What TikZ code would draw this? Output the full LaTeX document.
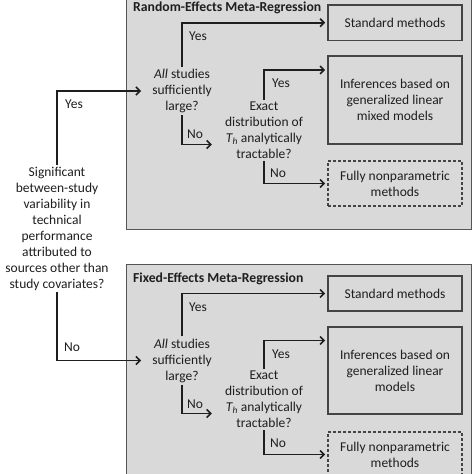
\documentclass[tikz,border=0pt]{standalone}
\usepackage{fontspec}
\setmainfont{Carlito}
\usetikzlibrary{arrows.meta,calc}
\definecolor{panelfill}{HTML}{D9D9D9}
\definecolor{panelline}{HTML}{555555}
\definecolor{boxline}{HTML}{444444}
\definecolor{ink}{HTML}{1E1E1E}
\tikzset{
  panel/.style={draw=panelline, fill=panelfill, line width=1.4pt},
  outbox/.style={draw=boxline, fill=panelfill, line width=1.6pt, minimum width=134pt, align=center, inner sep=0pt, text=ink},
  dashbox/.style={outbox, dashed, dash pattern=on 3pt off 2pt},
  txt/.style={align=center, inner sep=2pt, text=ink, font=\fontsize{13.5}{16}\selectfont},
  lbl/.style={inner sep=0pt, text=ink, font=\fontsize{13.5}{16}\selectfont},
  ttl/.style={inner sep=0pt, anchor=west, text=ink, font=\fontsize{13.7}{16}\selectfont\bfseries},
  conn/.style={draw=ink, line width=1.8pt, -{Straight Barb[length=4pt,width=8pt,line width=1.6pt]}},
}
\begin{document}
\begin{tikzpicture}[x=1pt,y=-1pt]
\useasboundingbox (0,0) rectangle (474,474);
\clip (0,0) rectangle (474,474);
\fill[white] (0,0) rectangle (474,474);
% panels
\draw[panel] (126.5,-5) rectangle (471.5,229.5);
\draw[panel] (126.5,264.5) rectangle (471.5,480);
\node[ttl] (t1) at (133,8) {Random-Effects Meta-Regression};
\node[ttl] (t2) at (133,279) {Fixed-Effects Meta-Regression};
% outcome boxes top
\node[outbox, font=\fontsize{13.5}{16}\selectfont, minimum height=35.5pt] (std1) at (395,22.7) {Standard methods};
\node[outbox, font=\fontsize{13.5}{16}\selectfont, minimum height=88pt] (inf1) at (395,100) {Inferences based on\\generalized linear\\mixed models};
\node[dashbox, font=\fontsize{13.5}{16}\selectfont, minimum height=45pt] (full1) at (395,183.5) {Fully nonparametric\\methods};
% outcome boxes bottom
\node[outbox, font=\fontsize{13.5}{16}\selectfont, minimum height=35pt] (std2) at (395,293.5) {Standard methods};
\node[outbox, font=\fontsize{13.5}{16}\selectfont, minimum height=87pt] (inf2) at (395,370.5) {Inferences based on\\generalized linear\\models};
\node[dashbox, font=\fontsize{13.5}{16}\selectfont, minimum height=45pt] (full2) at (395,454.5) {Fully nonparametric\\methods};
% questions
\node[txt] (sig) at (57,228.5) {Significant\\between-study\\variability in\\technical\\performance\\attributed to\\sources other than\\study covariates?};
\node[txt] (q1) at (182,91) {\textit{All} studies\\sufficiently\\large?};
\node[txt] (e1) at (264,130.5) {Exact\\distribution of\\\textit{T}\kern-0.5pt\textsubscript{\textit{h}} analytically\\tractable?};
\node[txt] (q2) at (182,360.5) {\textit{All} studies\\sufficiently\\large?};
\node[txt] (e2) at (264,399.5) {Exact\\distribution of\\\textit{T}\kern-0.5pt\textsubscript{\textit{h}} analytically\\tractable?};
% connectors top
\draw[conn, shorten >=9pt] (sig.north) |- (q1.west);
\draw[conn, shorten >=2pt] (q1.north) |- (std1.west);
\draw[conn, shorten >=11pt] (q1.south) |- ($(e1.west)+(0,14)$);
\draw[conn, shorten >=2pt] (e1.north) |- ($(inf1.west)+(0,-30)$);
\draw[conn, shorten >=2pt] (e1.south) |- (full1.west);
% connectors bottom
\draw[conn, shorten >=9pt] (sig.south) |- (q2.west);
\draw[conn, shorten >=2pt] (q2.north) |- (std2.west);
\draw[conn, shorten >=11pt] (q2.south) |- ($(e2.west)+(0,14)$);
\draw[conn, shorten >=2pt] (e2.north) |- ($(inf2.west)+(0,-30)$);
\draw[conn, shorten >=2pt] (e2.south) |- (full2.west);
% labels
\node[lbl] (y0) at (74,104) {Yes};
\node[lbl] (n0) at (72,347) {No};
\node[lbl] (y1) at (198,36) {Yes};
\node[lbl] (n1) at (195,134) {No};
\node[lbl] (y2) at (281,83) {Yes};
\node[lbl] (n2) at (278,173) {No};
\node[lbl] (y3) at (198,307) {Yes};
\node[lbl] (n3) at (195,404) {No};
\node[lbl] (y4) at (281,354) {Yes};
\node[lbl] (n4) at (278,443) {No};
\end{tikzpicture}
\end{document}
